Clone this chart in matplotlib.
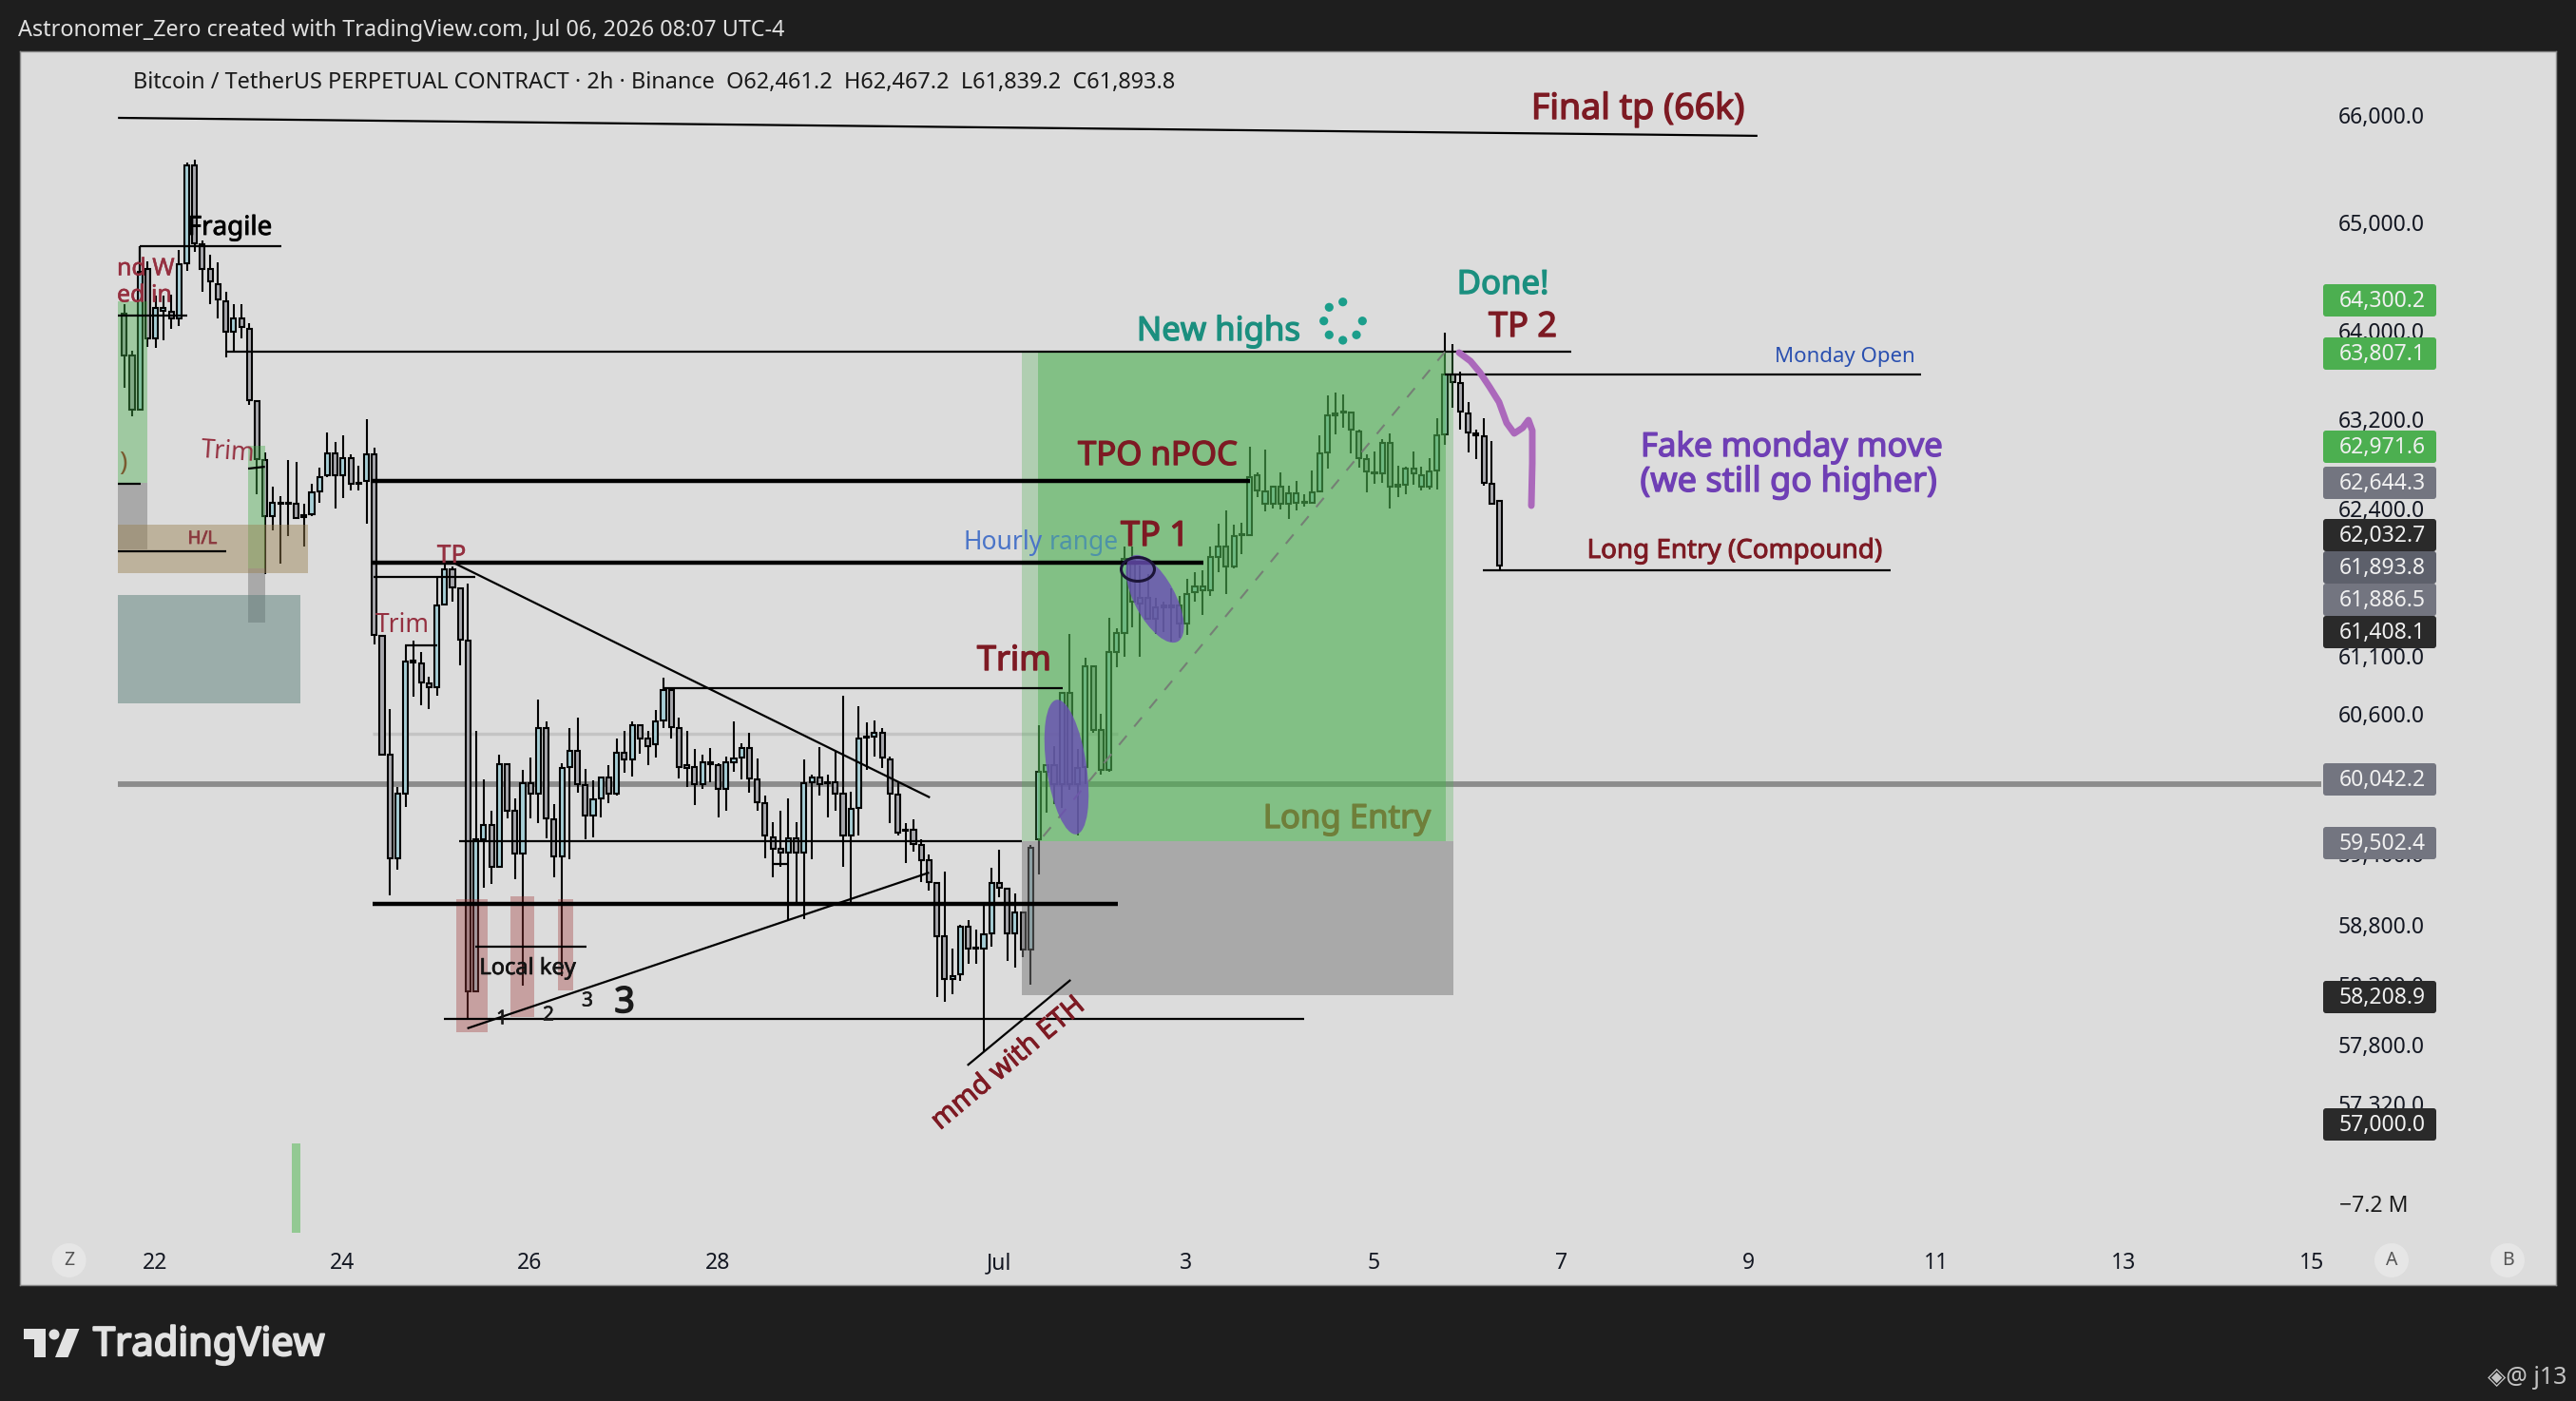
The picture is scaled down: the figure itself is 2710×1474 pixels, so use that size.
import numpy as np
import matplotlib
matplotlib.use('Agg')
import matplotlib.pyplot as plt
import matplotlib.patheffects as pe
from matplotlib.patches import Rectangle, Ellipse, Circle, Polygon, FancyBboxPatch
from matplotlib.transforms import Affine2D

plt.rcParams['font.family'] = ['Noto Sans', 'DejaVu Sans']
plt.rcParams['lines.solid_capstyle'] = 'butt'

W, H = 2710, 1474

# 2h candles
opens = [64160, 63770, 63280, 64570, 63930, 64180, 64170, 64110, 64620, 65530,
         64790, 64570, 64430, 64270, 63990, 64110, 64020, 63360, 62830, 62330,
         62450, 62440, 62440, 62320, 62350, 62550, 62690, 62890, 62690, 62850,
         62630, 62640, 62880, 61270, 60240, 59360, 59910, 61060, 61030, 60860,
         60830, 61550, 61860, 61690, 61230, 58240, 59520, 59640, 59290, 60160,
         59760, 59400, 60000, 59910, 60470, 59690, 59380, 60140, 60280, 59980,
         59720, 59870, 60050, 59910, 60260, 60200, 60500, 60380, 60330, 60540,
         60800, 60470, 60150, 60140, 59990, 60180, 60150, 59950, 60180, 60220,
         60300, 60030, 59830, 59540, 59440, 59410, 59530, 59410, 60010, 60050,
         60010, 60010, 59910, 59550, 59790, 60400, 60400, 60430, 60200, 59900,
         59600, 59600, 59470, 59340, 59150, 58700, 58350, 58390, 58780, 58610,
         58600, 58730, 59150, 59100, 58730, 58900, 58590, 59520, 60100, 60150,
         59990, 60780, 59990, 60140, 61010, 60460, 60110, 61130, 61300, 61930,
         61560, 61610, 61420, 61540, 61540, 61540, 61380, 61660, 61670, 61670,
         61970, 62060, 61880, 62170, 62160, 62690, 62440, 62440, 62590, 62440,
         62450, 62460, 62450, 62550, 62900, 63230, 63270, 63260, 63090, 62840,
         62720, 62710, 62980, 62610, 62610, 62750, 62590, 62590, 62740, 63060,
         63600, 63520, 63250, 63070, 63040, 62620, 62461.2]
highs = [64240, 63820, 64780, 64640, 64320, 64320, 64330, 64740, 65550, 65580,
         64830, 64700, 64630, 64360, 64240, 64240, 64070, 63370, 62900, 62590,
         62510, 62830, 62810, 62440, 62620, 62760, 63080, 62990, 63050, 62880,
         62780, 63200, 62940, 61280, 60640, 59970, 61190, 61230, 61130, 60920,
         61790, 61920, 61880, 61700, 61730, 60450, 60030, 59760, 60240, 60160,
         59870, 60110, 60220, 60720, 60530, 59820, 60170, 60470, 60560, 60120,
         60020, 60060, 60150, 60380, 60450, 60530, 60500, 60450, 60630, 60910,
         60830, 60560, 60450, 60290, 60240, 60300, 60170, 60230, 60530, 60340,
         60430, 60210, 59890, 59670, 59760, 59870, 59670, 60200, 60070, 60310,
         60070, 60270, 60750, 59930, 60660, 60520, 60540, 60470, 60230, 60010,
         59660, 59690, 59520, 59390, 59150, 59250, 58600, 58800, 58840, 58760,
         58970, 59280, 59430, 59110, 59060, 58900, 59470, 60500, 60150, 60320,
         60780, 61290, 60290, 61080, 61010, 60600, 61430, 61340, 62060, 62060,
         61890, 61820, 61610, 61570, 61690, 61620, 61770, 61830, 61850, 62060,
         62260, 62380, 62250, 62270, 62950, 62720, 62920, 62600, 62720, 62600,
         62640, 62520, 62740, 63050, 63410, 63440, 63420, 63270, 63100, 62880,
         62910, 63020, 63070, 62780, 62770, 62910, 62770, 62850, 63210, 63980,
         63880, 63630, 63350, 63100, 63210, 63000, 62467.2]
lows = [63480, 63220, 63280, 63850, 63840, 63910, 64020, 64040, 64550, 64720,
        64360, 64240, 64110, 63760, 63810, 63930, 63330, 62520, 61820, 62200,
        61910, 62150, 62300, 62060, 62330, 62450, 62680, 62400, 62490, 62560,
        62560, 62260, 61200, 60240, 59050, 59260, 59800, 60740, 60670, 60640,
        60750, 61550, 61570, 61020, 58020, 58240, 59110, 59140, 59290, 59700,
        59180, 58290, 59700, 59660, 59530, 59200, 58370, 59350, 59920, 59520,
        59540, 59710, 59830, 59890, 60090, 60060, 60250, 60150, 60220, 60470,
        60380, 60040, 59970, 59810, 59950, 60010, 59710, 59760, 60100, 60030,
        59920, 59760, 59360, 59200, 59290, 58840, 58980, 58850, 59350, 59890,
        59710, 59760, 59290, 58980, 59550, 60110, 60230, 60130, 59660, 59550,
        59320, 59420, 59160, 59090, 58200, 58160, 58220, 58330, 58470, 58470,
        57750, 58620, 59030, 58500, 58440, 58530, 58300, 59220, 59750, 59820,
        59790, 59940, 59550, 59990, 60430, 60070, 60100, 61000, 61090, 61350,
        61090, 61420, 61290, 61310, 61220, 61260, 61280, 61570, 61460, 61620,
        61830, 61640, 61870, 61990, 62150, 62500, 62370, 62400, 62390, 62300,
        62380, 62410, 62440, 62540, 62750, 63060, 63120, 62890, 62760, 62540,
        62620, 62630, 62400, 62500, 62520, 62610, 62560, 62570, 62570, 62970,
        63300, 63100, 62900, 62840, 62600, 62430, 61839.2]
closes = [63770, 63280, 64540, 63930, 64210, 64210, 64110, 64610, 65530, 64800,
          64570, 64450, 64290, 63990, 64110, 64030, 63370, 62840, 62330, 62450,
          62440, 62440, 62310, 62340, 62540, 62680, 62890, 62690, 62850, 62620,
          62620, 62880, 61280, 60240, 59360, 59910, 61050, 61040, 60870, 60830,
          61540, 61860, 61700, 61240, 58240, 59520, 59640, 59290, 60160, 59760,
          59400, 60000, 59910, 60470, 59700, 59380, 60130, 60280, 59990, 59720,
          59860, 60050, 59910, 60260, 60200, 60500, 60380, 60320, 60530, 60800,
          60480, 60140, 60130, 59990, 60180, 60160, 59950, 60180, 60210, 60300,
          60040, 59840, 59550, 59440, 59410, 59530, 59410, 60000, 60050, 59990,
          60000, 59910, 59550, 59780, 60380, 60390, 60430, 60220, 59910, 59580,
          59590, 59480, 59340, 59160, 58700, 58350, 58370, 58780, 58600, 58600,
          58720, 59150, 59110, 58730, 58900, 58590, 59450, 60100, 60150, 59990,
          60780, 59990, 60130, 61010, 60460, 60110, 61130, 61300, 61950, 61570,
          61610, 61420, 61520, 61520, 61520, 61380, 61640, 61710, 61710, 61970,
          62060, 61880, 62150, 62160, 62680, 62560, 62550, 62590, 62440, 62530,
          62530, 62450, 62540, 62890, 63230, 63250, 63260, 63100, 62850, 62730,
          62710, 62980, 62590, 62590, 62750, 62710, 62690, 62730, 63050, 63600,
          63530, 63270, 63080, 63050, 62630, 62440, 61893.8]

# axis ticks
price_ticks = [66000, 65000, 64000, 63200, 62400, 61100, 60600, 59400, 58800, 58300, 57800, 57320]
day_ticks = [3.9, 27.9, 51.9, 75.9, 111.9, 135.9, 159.9, 183.9, 207.9, 231.9, 255.9, 279.9]
day_labels = ['22', '24', '26', '28', 'Jul', '3', '5', '7', '9', '11', '13', '15']

# drawn levels: bar0, bar1, price
thin_levels = [(2, 20.1, 64780), (-0.8, 8.1, 64139), (12.9, 185.2, 63807), (169, 230, 63602),
               (31.9, 44.9, 61790), (35.9, 40, 61190), (69, 120.1, 60822), (42.9, 114.9, 59502),
               (40.9, 151, 58015), (44.9, 59.2, 58616), (173.9, 226.1, 61849), (-0.8, 13, 62017),
               (-0.8, 2.1, 62617), (83, 84.9, 59311)]
thick_levels = [(31.8, 144, 62644), (31.7, 138.1, 61917), (31.8, 127.2, 58975)]

# trend lines: bar0, price0, bar1, price1
trend_lines = [(-0.8, 65973, 209, 65804), (2, 64777, 2, 64504), (15.85, 62753, 18, 62770),
               (42.1, 61917, 103.1, 59877), (43.9, 57937, 103, 59239), (107.9, 57632, 121.1, 58339)]

# tags on the price scale
tag_texts = ['64,300.2', '63,807.1', '62,971.6', '62,644.3', '62,032.7', '61,893.8',
             '61,886.5', '61,408.1', '60,042.2', '59,502.4', '58,208.9', '57,000.0']
tag_colors = ['#4caf50', '#4caf50', '#4caf50', '#737580', '#2a2a2a', '#5d606b',
              '#737580', '#2a2a2a', '#737580', '#737580', '#2a2a2a', '#2a2a2a']
tag_y = [316, 372, 470, 508, 563, 597, 631, 665, 820, 887, 1049, 1183]

fig = plt.figure(figsize=(W / 100, H / 100), dpi=100, facecolor='#1e1e1e')
ax = fig.add_axes([21 / W, 1 - 1352 / H, (2689 - 21) / W, (1352 - 54) / H], facecolor='#dcdcdc')

# image pixels, y going down, for text and hand drawn shapes
px = Affine2D().scale(1, -1).translate(0, H)

ax.set_yscale('log')
ax.set_xlim(-13.35, 311.2)
ax.set_ylim(55854, 66602)

bars = np.arange(len(opens))
o = np.array(opens)
c = np.array(closes)
body_colors = ['#a6cdd5' if a >= b else '#a8a8ad' for a, b in zip(c, o)]
ax.vlines(bars, lows, highs, color='black', lw=1.5, zorder=3)
ax.bar(bars, np.maximum(np.abs(c - o), 8), bottom=np.minimum(o, c), width=0.62, color=body_colors,
       edgecolor='black', linewidth=1.5, zorder=3.1)

# volume pane leftover
ax.bar([22], [56994 - 56273], bottom=[56273], width=1.1, color='#93c993', zorder=2)


def zone(b0, b1, p0, p1, color, alpha, z=5):
    ax.add_patch(Rectangle((b0, p0), b1 - b0, p1 - p0, fc=color, ec='none', alpha=alpha, zorder=z))


ax.plot([31.8, 127.2], [60423, 60423], color='#c4c4c4', lw=2.4, zorder=2.5)
ax.plot([-0.8, 281.1], [59995, 59995], color='#8c8c8c', lw=4.2, zorder=2.5)

zone(-0.8, 2.96, 62626, 64269, '#4caf50', 0.42)
zone(-0.8, 2.96, 62035, 62626, '#787878', 0.5)
zone(15.85, 18.05, 61867, 62958, '#4caf50', 0.42)
zone(15.85, 18.05, 61390, 61867, '#787878', 0.5)
zone(-0.8, 23.5, 61824, 62253, '#997f4f', 0.45)
zone(-0.8, 22.5, 60687, 61632, '#5c7f7a', 0.5)
zone(114.9, 170.1, 59502, 63807, '#4caf50', 0.3)
zone(116.9, 169.1, 59502, 63807, '#4caf50', 0.45)
zone(114.9, 170.1, 58209, 59502, '#787878', 0.5)
zone(42.5, 46.5, 57905, 59015, '#a33f3f', 0.38)
zone(49.4, 52.5, 58031, 59042, '#a33f3f', 0.38)
zone(55.5, 57.5, 58252, 59015, '#a33f3f', 0.38)

for b0, b1, p in thin_levels:
    ax.plot([b0, b1], [p, p], color='black', lw=1.6, zorder=6)
for b0, b1, p in thick_levels:
    ax.plot([b0, b1], [p, p], color='black', lw=3.2, zorder=6)
for b0, p0, b1, p1 in trend_lines:
    ax.plot([b0, b1], [p0, p1], color='black', lw=1.6, zorder=6)
ax.plot([117.6, 169], [59546, 63807], color='#757f75', lw=1.5, ls=(0, (6, 6)), zorder=6)

# hand drawn shapes
ax.add_patch(Ellipse((1122, 807), 42, 143, angle=-8.4, fc='#6a4fb5', ec='none', alpha=0.8, zorder=7, transform=px))
ax.add_patch(Ellipse((1215, 630), 43, 102, angle=-28, fc='#6a4fb5', ec='none', alpha=0.8, zorder=7, transform=px))
ax.add_patch(Ellipse((1197, 599), 35, 25, fc='none', ec='#1c1538', lw=2.2, zorder=8, transform=px))
brush_x = [1535, 1547, 1557, 1567, 1577, 1585, 1593, 1602, 1608, 1612, 1612, 1611]
brush_y = [371, 380, 392, 407, 423, 445, 456, 450, 442, 453, 487, 532]
ax.plot(brush_x, brush_y, color='#ab68bb', lw=5, solid_capstyle='round', solid_joinstyle='round',
        zorder=8, transform=px)
for sx, sy in [(1412.7, 317.7), (1398.3, 323.3), (1392.7, 337.7), (1398.3, 352.3),
               (1412.7, 358), (1427, 352.3), (1433.3, 337.7)]:
    ax.add_patch(Circle((sx, sy), 4.6, fc='#1b9e8b', ec='none', zorder=8, transform=px))


def label(x, y, s, color, size, ha='center', heavy=0, **kw):
    t = ax.text(x, y + 3, s, color=color, fontsize=size, ha=ha, va='center', transform=px, zorder=9, **kw)
    if heavy:
        t.set_path_effects([pe.withStroke(linewidth=heavy, foreground=color)])
    return t


RED = '#7d1a23'
SOFT_RED = '#953040'
TEAL = '#1b8f7f'
label(1723, 112, 'Final tp (66k)', RED, 27, heavy=1)
label(242, 237, 'Fragile', 'black', 20, heavy=0.6)
label(123, 280, 'nd W', SOFT_RED, 18, ha='left', heavy=0.4)
label(123, 308, 'ed in', SOFT_RED, 18, ha='left', heavy=0.4)
label(129, 485, ')', '#7a5a30', 20)
label(240, 473, 'Trim', SOFT_RED, 19, rotation=-4)
label(213, 564, 'H/L', '#8b3a3f', 13.5, heavy=0.6)
label(475, 582, 'TP', SOFT_RED, 19, heavy=0.3)
label(423, 655, 'Trim', SOFT_RED, 19)
label(555, 1016, 'Local key', '#141414', 17, heavy=0.5)
label(528, 1069, '1', '#1a1a1a', 15, heavy=0.4)
label(577, 1065, '2', '#1a1a1a', 15, heavy=0.4)
label(618, 1050, '3', '#1a1a1a', 15, heavy=0.4)
label(657, 1052, '3', '#1a1a1a', 27, heavy=1.2)
label(1067, 693, 'Trim', RED, 26, heavy=1)
label(1061, 1116, 'mmd with ETH', RED, 21, rotation=40, heavy=0.7)
label(1055, 568, 'Hourly', '#4a74c8', 19)
label(1140, 568, 'range', '#4e93a8', 19)
label(1215, 562, 'TP 1', RED, 26, heavy=1)
label(1218, 477, 'TPO nPOC', RED, 25, heavy=1)
label(1282, 346, 'New highs', TEAL, 25, heavy=1)
label(1581, 297, 'Done!', TEAL, 25, heavy=1)
label(1602, 342, 'TP 2', RED, 26, heavy=1)
label(1941, 373, 'Monday Open', '#2a50b0', 16)
label(1885, 468, 'Fake monday move', '#6f3fb5', 25, heavy=1)
label(1882, 505, '(we still go higher)', '#6f3fb5', 26, heavy=1)
label(1825, 577, 'Long Entry (Compound)', RED, 20, heavy=0.7)
label(1417, 859, 'Long Entry', '#6f7f3a', 25, heavy=1)
label(140, 84, 'Bitcoin / TetherUS PERPETUAL CONTRACT · 2h · Binance  O62,461.2  H62,467.2  L61,839.2  C61,893.8',
      '#1a1a1a', 16.9, ha='left')
label(2461, 1266, '−7.2 M', '#1a1a1a', 16.5, ha='left')

# price scale
ax.yaxis.tick_right()
ax.set_yticks(price_ticks)
ax.set_yticklabels([f'{p:,.1f}' for p in price_ticks], fontsize=16.5, color='#131722', ha='left')
ax.minorticks_off()
ax.tick_params(axis='y', direction='in', length=0, pad=-165)
ax.set_xticks(day_ticks)
ax.set_xticklabels(day_labels, fontsize=16.5, color='#131722')
ax.tick_params(axis='x', direction='in', length=0, pad=-25)
for s in ax.spines.values():
    s.set_color('#8a8a8a')
    s.set_linewidth(1)

for txt, col, y in zip(tag_texts, tag_colors, tag_y):
    ax.add_patch(FancyBboxPatch((2444, y - 17), 119, 34, boxstyle='round,pad=0,rounding_size=3',
                                fc=col, ec='none', zorder=10, transform=px, clip_on=False))
    ax.text(2506, y + 1, txt, color='#f0f0f0', fontsize=16.5, ha='center', va='center', transform=px, zorder=11)

for bx, letter in [(72.6, 'Z'), (2516, 'A'), (2638, 'B')]:
    ax.add_patch(Circle((bx, 1326), 18, fc='#e6e6e6', ec='none', zorder=8, transform=px))
    label(bx, 1323, letter, '#555555', 14)

# page chrome, outside the panel
label(19, 29, 'Astronomer_Zero created with TradingView.com, Jul 06, 2026 08:07 UTC-4', '#e0e0e0', 16.8, ha='left')
label(98, 1412, 'TradingView', '#e2e2e2', 30, ha='left', heavy=1.6)
label(2700, 1446, '◈@ j13', '#c4c4c4', 18, ha='right')
for shape in [[(24.5, 1398), (48, 1398), (48, 1428), (35.7, 1428), (35.7, 1409), (24.5, 1409)],
              [(70, 1398), (83.5, 1398), (71.5, 1428), (58, 1428)]]:
    ax.add_patch(Polygon(shape, fc='#e2e2e2', ec='none', transform=px, clip_on=False, zorder=9))
ax.add_patch(Circle((57, 1404), 5.5, fc='#e2e2e2', ec='none', transform=px, clip_on=False, zorder=9))

fig.savefig('out.png', dpi=100, facecolor=fig.get_facecolor())
